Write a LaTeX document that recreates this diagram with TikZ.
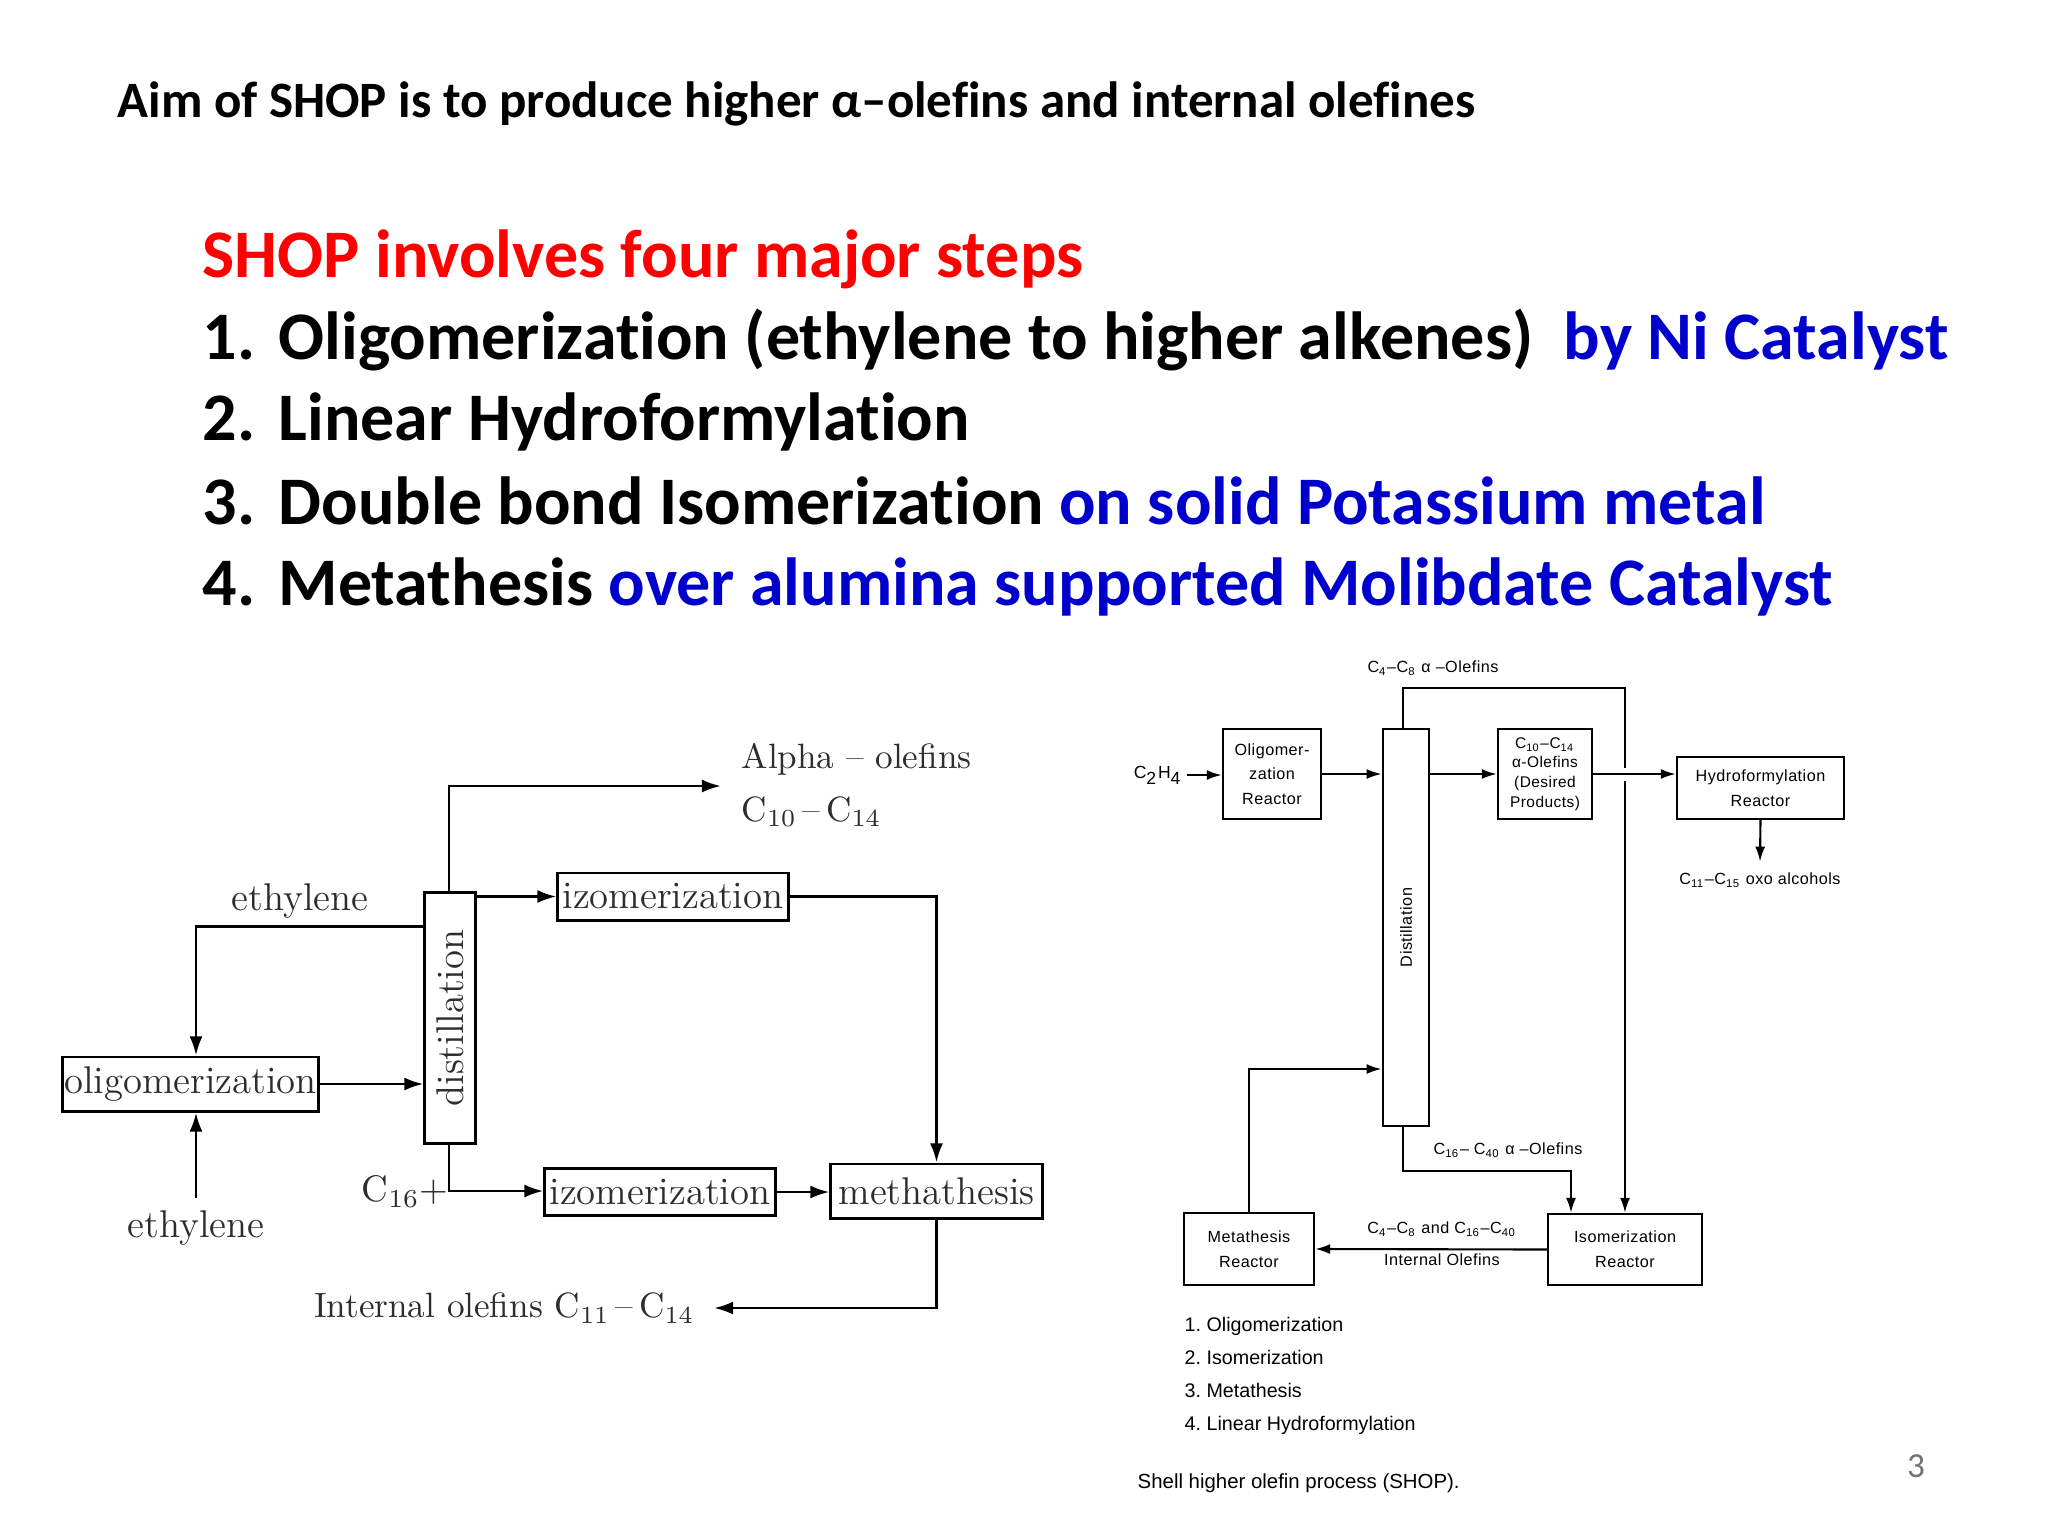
\documentclass[tikz,border=0pt]{standalone}
\usepackage{fontspec}
\usetikzlibrary{arrows.meta}
\newfontfamily\calibri[Ligatures={NoCommon}]{Carlito}
\newfontfamily\techfont[LetterSpace=3]{Liberation Sans}
\newfontfamily\arialf{Liberation Sans}
\definecolor{slideblue}{RGB}{0,0,204}
\definecolor{ltxt}{RGB}{45,45,45}
\tikzset{
  txt/.style={inner sep=0pt},
  lbox/.style={draw, line width=0.85pt, inner sep=0pt, text=ltxt, font=\fontsize{11}{13}\selectfont},
  ltext/.style={inner sep=0pt, text=ltxt, font=\fontsize{11}{13}\selectfont},
  larr/.style={line width=0.8pt, -{Latex[length=0.19cm,width=0.13cm]}},
  rbox/.style={draw, line width=0.65pt, inner sep=0pt, align=center, font=\techfont\fontsize{4.6}{7}\selectfont},
  rtext/.style={inner sep=0pt, font=\techfont\fontsize{4.6}{7}\selectfont},
  rarr/.style={line width=0.6pt, -{Latex[length=0.15cm,width=0.1cm]}},
  rline/.style={line width=0.6pt},
}
\newcommand{\bigf}{\calibri\bfseries\fontsize{19.35}{23}\selectfont}
\newcommand{\smallsrf}{\fontsize{10.5}{12.5}\selectfont}
\newcommand{\smallersrf}{\fontsize{10}{12}\selectfont}
\begin{document}
\begin{tikzpicture}[x=0.01cm, y=-0.01cm]
\useasboundingbox (0,0) rectangle (2048,1536);
\fill[white] (0,0) rectangle (2048,1536);

% ---------- slide text ----------
\node[txt, anchor=base west, font=\calibri\bfseries\fontsize{14.5}{17}\selectfont] (title) at (117,117)
  {Aim of SHOP is to produce higher α–olefins and internal olefines};
\node[txt, anchor=base west, font=\bigf, text=red] (steps) at (202,277) {SHOP involves four major steps};
\node[txt, anchor=base west, font=\bigf] (n1) at (202,359) {1.};
\node[txt, anchor=base west, font=\bigf] (s1) at (278,359) {Oligomerization (ethylene to higher alkenes)\ \ \textcolor{slideblue}{by Ni Catalyst}};
\node[txt, anchor=base west, font=\bigf] (n2) at (202,440) {2.};
\node[txt, anchor=base west, font=\bigf] (s2) at (278,440) {Linear Hydroformylation};
\node[txt, anchor=base west, font=\bigf] (n3) at (202,524) {3.};
\node[txt, anchor=base west, font=\bigf] (s3) at (278,524) {Double bond Isomerization \textcolor{slideblue}{on solid Potassium metal}};
\node[txt, anchor=base west, font=\bigf] (n4) at (202,605) {4.};
\node[txt, anchor=base west, font=\bigf] (s4) at (278,605) {Metathesis \textcolor{slideblue}{over alumina supported Molibdate Catalyst}};
\node[txt, font=\calibri\fontsize{10}{12}\selectfont, text=black!55] (pg) at (1916,1466) {3};

% ---------- left diagram ----------
\node[lbox, minimum width=2.55cm, minimum height=0.54cm] (olig) at (190.5,1084) {oligomerization};
\node[lbox, minimum width=0.5cm, minimum height=2.5cm] (dist) at (450,1018) {};
\node[ltext, rotate=90] (distl) at (dist.center) {distillation};
\node[lbox, minimum width=2.3cm, minimum height=0.47cm] (izt) at (673,896.5) {izomerization};
\node[lbox, minimum width=2.3cm, minimum height=0.47cm] (izb) at (660,1192) {izomerization};
\node[lbox, minimum width=2.11cm, minimum height=0.54cm] (meth) at (936.5,1191) {methathesis};

\node[ltext, font=\smallersrf, anchor=west, align=left, inner xsep=0.2cm] (alpha) at (721,785)
  {Alpha – olefins\\[3pt]C\textsubscript{10}\,–\,C\textsubscript{14}};
\node[ltext] (eth1) at (300,901) {ethylene};
\node[ltext, inner sep=0.12cm] (eth2) at (196,1228) {ethylene};
\node[ltext, font=\smallsrf] (c16) at (405,1192) {C\textsubscript{16}+};
\node[ltext, font=\smallersrf, anchor=east, inner xsep=0.19cm] (intl) at (714,1308) {Internal olefins C\textsubscript{11}\,–\,C\textsubscript{14}};

\coordinate (a1) at (449,786);
\coordinate (e1) at (196,926.5);
\coordinate (c1) at (449,1191);
\coordinate (m1) at (936.5,1308);

\draw[larr] (dist.north -| a1) -- (a1) -- (a1 -| alpha.west);
\draw[larr] (izt.west -| dist.east) -- (izt.west);
\draw[larr] (izt.east) -- (izt.east -| meth.north) -- (meth.north);
\draw[larr] (dist.west |- e1) -- (e1) -- (e1 |- olig.north);
\draw[larr] (eth2.north) -- (eth2.north |- olig.south);
\draw[larr] (olig.east) -- (olig.east -| dist.west);
\draw[larr] (dist.south -| c1) -- (c1) -- (c1 -| izb.west);
\draw[larr] (izb.east) -- (izb.east -| meth.west);
\draw[larr] (meth.south) -- (m1) -- (intl.east);

% ---------- right diagram ----------
\node[rbox, minimum width=0.98cm, minimum height=0.9cm] (olr) at (1272,774) {Oligomer-\\zation\\Reactor};
\node[rbox, minimum width=0.465cm, minimum height=3.97cm] (rdist) at (1406,927.5) {};
\node[rtext, rotate=90] (rdistl) at (rdist.center) {Distillation};
\node[rbox, minimum width=0.94cm, minimum height=0.9cm, font=\techfont\fontsize{4.4}{5.6}\selectfont] (c10) at (1545,774)
  {C\textsubscript{10}–C\textsubscript{14}\\α-Olefins\\(Desired\\Products)};
\node[rbox, minimum width=1.67cm, minimum height=0.62cm] (hyd) at (1760.5,788) {Hydroformylation\\Reactor};
\node[rbox, minimum width=1.3cm, minimum height=0.72cm] (met) at (1249,1249) {Metathesis\\Reactor};
\node[rbox, minimum width=1.54cm, minimum height=0.71cm] (iso) at (1625,1249.5) {Isomerization\\Reactor};

\node[rtext, font=\techfont\fontsize{5}{7}\selectfont] (c2h4) at (1158,775) {C\textsubscript{2}H\textsubscript{4}};
\node[rtext, inner sep=0.1cm] (oxo) at (1760,880) {C\textsubscript{11}–C\textsubscript{15} oxo alcohols};
\node[rtext] (c48) at (1433,668) {C\textsubscript{4}–C\textsubscript{8} α –Olefins};
\node[rtext] (c1640) at (1508,1150) {C\textsubscript{16}– C\textsubscript{40} α –Olefins};
\node[rtext] (intl1) at (1442,1229) {C\textsubscript{4}–C\textsubscript{8} and C\textsubscript{16}–C\textsubscript{40}};
\node[rtext] (intl2) at (1442,1260) {Internal Olefins};
\node[rtext, anchor=west, align=left, font=\arialf\fontsize{5.6}{9.45}\selectfont] (list) at (1184,1376)
  {1.\ Oligomerization\\2.\ Isomerization\\3.\ Metathesis\\4.\ Linear Hydroformylation};
\node[rtext, anchor=west, font=\arialf\fontsize{5.8}{7}\selectfont] (cap) at (1137,1483) {Shell higher olefin process (SHOP).};

\coordinate (t1) at (1403,688);
\coordinate (t2) at (1625,688);
\coordinate (b1) at (1403,1171);
\coordinate (b2) at (1571,1171);
\coordinate (m2) at (1249,1069);

\draw[rarr] (c2h4.east) ++(4,0) -- (c2h4.east -| olr.west);
\draw[rarr] (olr.east) -- (olr.east -| rdist.west);
\draw[rarr] (c10.west -| rdist.east) -- (c10.west);
\draw[rarr] (rdist.north -| t1) -- (t1) -- (t2) -- (t2 |- iso.north);
\draw[white, line width=0.13cm] (t2 |- c10.east) ++(-6,0) -- ++(12,0);
\draw[rarr] (c10.east) -- (c10.east -| hyd.west);
\draw[rarr] (hyd.south) -- (oxo.north);
\draw[rarr] (rdist.south -| b1) -- (b1) -- (b2) -- (b2 |- iso.north);
\draw[rarr] (met.north) -- (met.north |- m2) -- (m2 -| rdist.west);
\draw[rarr] (iso.west) -- (met.east);
\end{tikzpicture}
\end{document}
